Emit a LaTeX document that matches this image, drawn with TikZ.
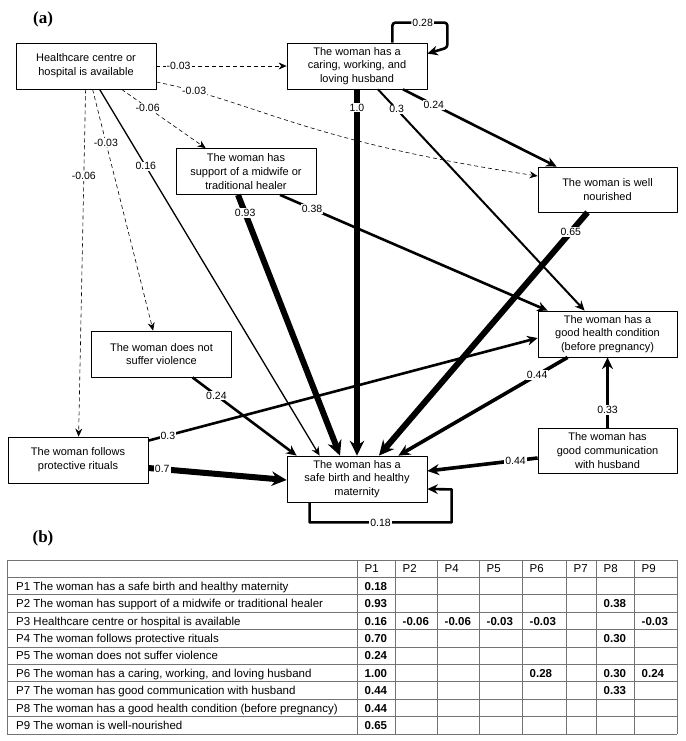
\documentclass[tikz,border=0pt]{standalone}
\usepackage{fontspec}
\setmainfont{Liberation Sans}
\newfontfamily\capfont{Liberation Serif}
\usetikzlibrary{arrows.meta,calc}

\tikzset{
  box/.style={draw,line width=0.8pt,minimum width=140pt,minimum height=46pt,inner sep=1pt,align=center,font=\fontsize{11}{13.8}\selectfont},
  lbl/.style={fill=white,inner sep=1pt,font=\fontsize{10.5}{12}\selectfont},
  neg/.style={-{Stealth[length=8pt,width=7pt]},dash pattern=on 4pt off 3pt,line width=0.6pt},
  pth/.style={-{Stealth[length=7pt 1.3,width=6pt 1.4]},line width=#1},
  cell/.style={anchor=base west,inner sep=0pt,font=\fontsize{11.5}{13}\selectfont},
  tabline/.style={line width=0.7pt,draw=black!55},
  panel/.style={font=\capfont\bfseries\fontsize{17}{20}\selectfont}
}

\begin{document}
\begin{tikzpicture}[x=1pt,y=-1pt,line join=round]
\useasboundingbox (0,0) rectangle (685,741);
\node[panel] (capa) at (43,19) {(a)};
\node[panel] (capb) at (43,538) {(b)};

% factors
\node[box] (hc) at (86,66) {Healthcare centre or\\hospital is available};
\node[box] (p6) at (357,66) {The woman has a\\caring, working, and\\loving husband};
\node[box] (p2) at (246,171.5) {The woman has\\support of a midwife or\\traditional healer};
\node[box,minimum width=139pt,minimum height=45pt] (p9) at (607.5,189.5) {The woman is well\\nourished};
\node[box] (p5) at (161.5,354) {The woman does not\\suffer violence};
\node[box,minimum width=139pt] (p8) at (607.5,334) {The woman has a\\good health condition\\(before pregnancy)};
\node[box] (p4) at (78,460) {The woman follows\\protective rituals};
\node[box] (p1) at (357,479) {The woman has a\\safe birth and healthy\\maternity};
\node[box,minimum width=139pt,minimum height=45pt] (p7) at (607.5,450.5) {The woman has\\good communication\\with husband};

% negative paths
\draw[neg] (hc.east) -- node[lbl,pos=.17]{-0.03} (p6.west);
\draw[neg] ($(hc.east)+(0,16)$) .. controls (260,103) and (300,140) .. node[lbl,pos=.13]{-0.03} ($(p9.west)+(0,-13.5)$);
\draw[neg] ($(hc.south west)+(106,0)$) -- node[lbl,pos=.31]{-0.06} ($(p2.north west)+(30,0)$);
\draw[neg] ($(hc.south west)+(77,0)$) -- node[lbl,pos=.22]{-0.03} ($(p5.north west)+(62,0)$);
\draw[neg] ($(hc.south west)+(70,0)$) -- node[lbl,pos=.25]{-0.06} ($(p4.north west)+(71,0)$);

% positive paths
\draw[pth=1.3pt] ($(hc.south west)+(84,0)$) -- node[lbl,pos=.21]{0.16} ($(p1.north west)+(33,0)$);
\draw[pth=6pt] (p6.south) -- node[lbl,pos=.05]{1.0} (p1.north);
\draw[pth=2pt] ($(p6.south)+(21,0)$) -- node[lbl,pos=.09]{0.3} ($(p8.north west)+(47,0)$);
\draw[pth=2.6pt] ($(p6.south)+(46,0)$) -- node[lbl,pos=.2]{0.24} ($(p9.north west)+(19,0)$);
\draw[pth=6pt] ($(p2.south)+(-8,0)$) -- node[lbl,pos=.07]{0.93} ($(p1.north)+(-17,0)$);
\draw[pth=2.6pt] ($(p2.south)+(34,0)$) -- node[lbl,pos=.12]{0.38} ($(p8.north west)+(10,0)$);
\draw[pth=6pt] ($(p9.south)+(-20,0)$) -- node[lbl,pos=.08]{0.65} ($(p1.north)+(22,0)$);
\draw[pth=2.6pt] ($(p5.south)+(31,0)$) -- node[lbl,pos=.23]{0.24} ($(p1.north west)+(10,0)$);
\draw[pth=2.6pt] ($(p4.north east)+(0,4)$) -- node[lbl,pos=.05]{0.3} ($(p8.west)+(0,4)$);
\draw[pth=6pt] ($(p4.east)+(0,8)$) -- node[lbl,pos=.1]{0.7} ($(p1.west)+(0,1)$);
\draw[pth=3.6pt] ($(p8.south west)+(30,0)$) -- node[lbl,pos=.18]{0.44} ($(p1.north east)+(-29,0)$);
\draw[pth=3.6pt] (p7.north) -- node[lbl,pos=.25]{0.33} (p8.south);
\draw[pth=3.6pt] ($(p7.west)+(0,7.5)$) -- node[lbl,pos=.2]{0.44} ($(p1.east)+(0,-8)$);

% self loops
\draw[pth=2.6pt,rounded corners=3pt] ($(p6.north east)+(-35,0)$) -- ++(0,-20) -- node[lbl,pos=.55]{0.28} ++(55,0) -- ++(0,25) -- ($(p6.north east)+(0,11)$);
\draw[pth=2.6pt] ($(p1.south west)+(23,0)$) -- ++(0,20) -- node[lbl]{0.18} ++(142,0) -- ++(0,-33) -- ($(p1.east)+(0,10)$);

% table
\foreach \i in {0,...,10}
  \draw[tabline] (7,{560+17.4*\i}) -- (677,{560+17.4*\i});
\foreach \x in {7,357,395,437,479,522,566,596,634,677}
  \draw[tabline] (\x,560) -- (\x,734);
\foreach \x/\h in {357/P1,395/P2,437/P4,479/P5,522/P6,566/P7,596/P8,634/P9}
  \node[cell] (h\h) at ({\x+7.5},572.9) {\h};
\foreach \t [count=\i] in {{P1 The woman has a safe birth and healthy maternity},
  {P2 The woman has support of a midwife or traditional healer},
  {P3 Healthcare centre or hospital is available},
  {P4 The woman follows protective rituals},
  {P5 The woman does not suffer violence},
  {P6 The woman has a caring, working, and loving husband},
  {P7 The woman has good communication with husband},
  {P8 The woman has a good health condition (before pregnancy)},
  {P9 The woman is well-nourished}}
  \node[cell] (r\i) at (16,{572.9+17.4*\i}) {\t};
\foreach \x/\r/\v in {357/1/0.18, 357/2/0.93, 596/2/0.38, 357/3/0.16, 395/3/-0.06,
  437/3/-0.06, 479/3/-0.03, 522/3/-0.03, 634/3/-0.03, 357/4/0.70, 596/4/0.30,
  357/5/0.24, 357/6/1.00, 522/6/0.28, 596/6/0.30, 634/6/0.24, 357/7/0.44,
  596/7/0.33, 357/8/0.44, 357/9/0.65}
  \node[cell,font=\fontsize{11.5}{13}\selectfont\bfseries] (v\r-\x) at ({\x+7.5},{572.9+17.4*\r}) {\v};
\end{tikzpicture}
\end{document}
